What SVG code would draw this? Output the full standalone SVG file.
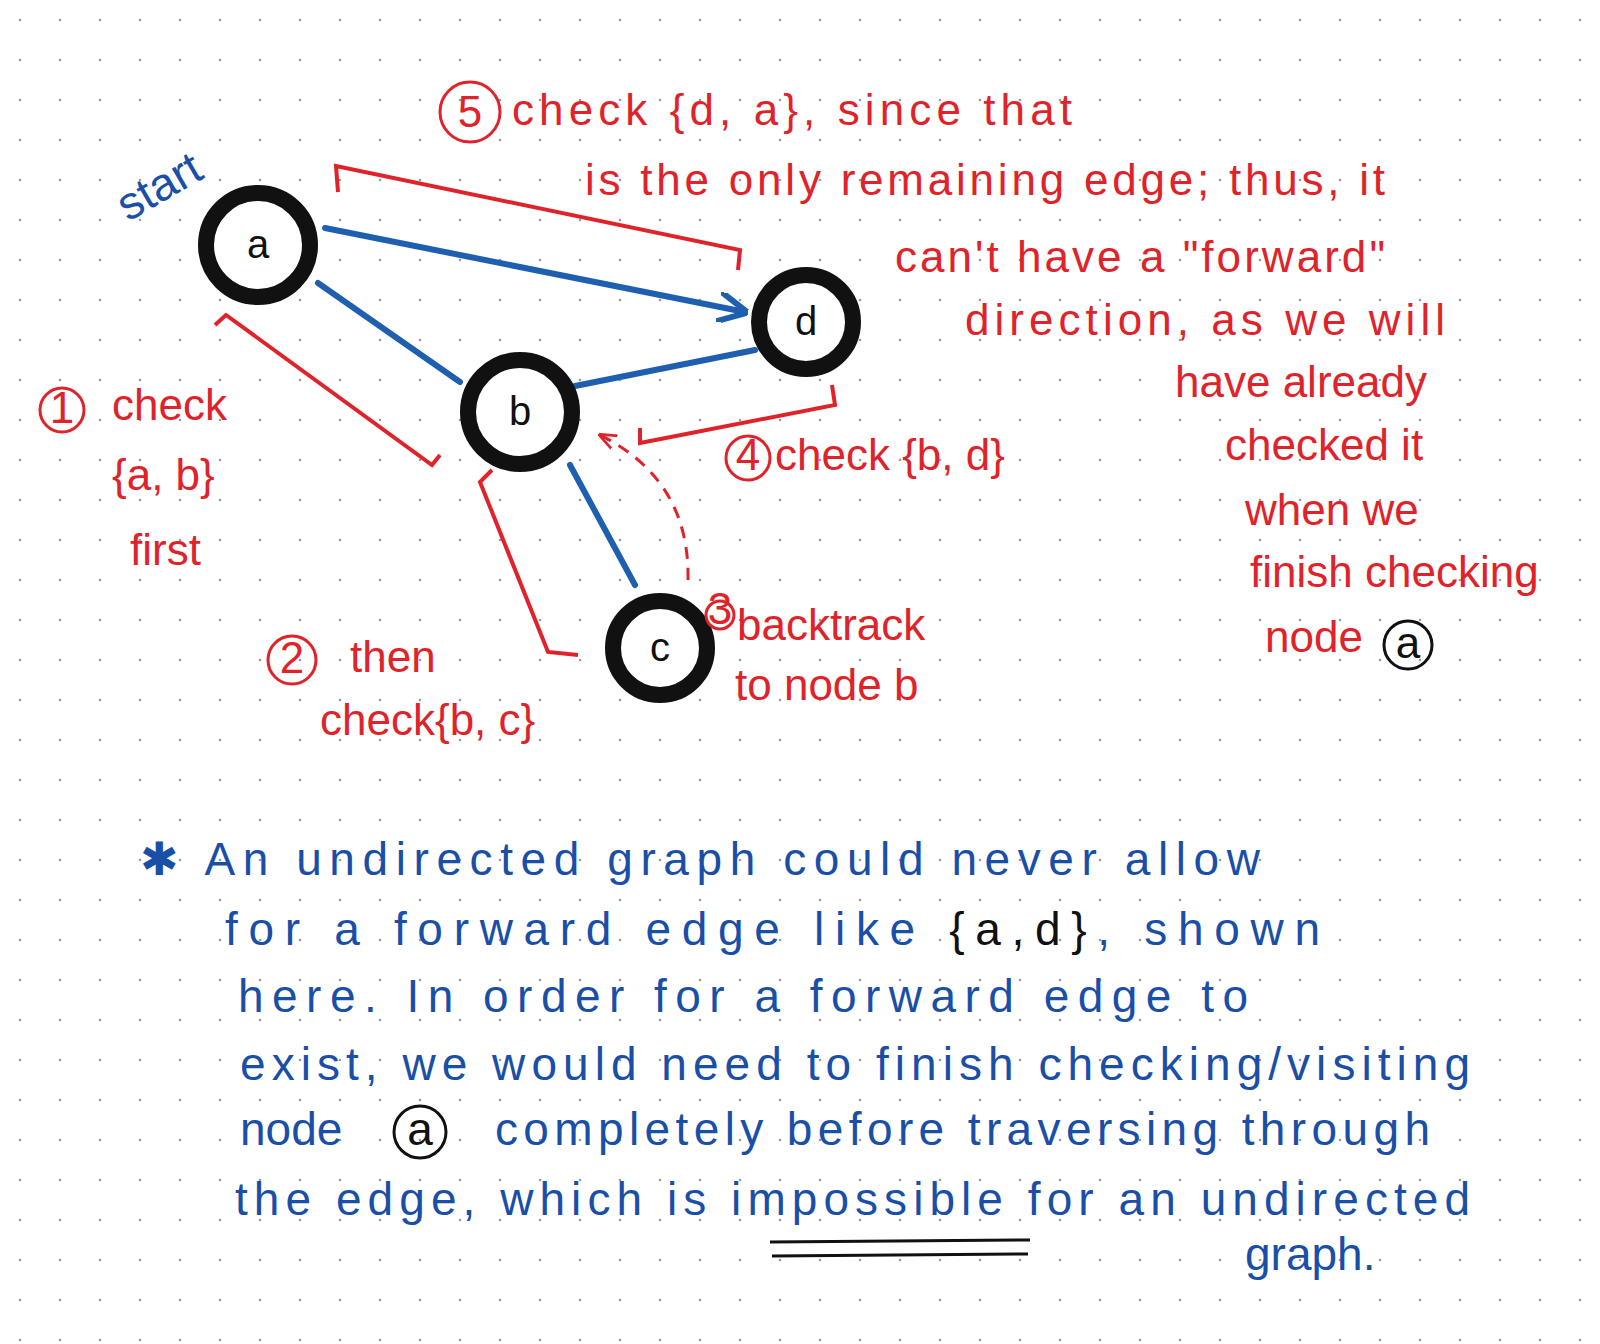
<svg xmlns="http://www.w3.org/2000/svg" width="1600" height="1344" viewBox="0 0 1600 1344">
<defs>
<pattern id="dots" width="40" height="40" patternUnits="userSpaceOnUse"><circle cx="20" cy="20" r="1.3" fill="#9a9a9a"/></pattern>
<marker id="ab" viewBox="0 0 10 10" refX="9" refY="5" markerWidth="5" markerHeight="5" orient="auto"><path d="M0,0 L10,5 L0,10" fill="none" stroke="#1f5fb0" stroke-width="2"/></marker>
<marker id="ar" viewBox="0 0 10 10" refX="9" refY="5" markerWidth="6" markerHeight="6" orient="auto"><path d="M0,1 L10,5 L0,9" fill="none" stroke="#e0232a" stroke-width="1.5"/></marker>
<style>
.node circle{fill:#fff;stroke:#111;stroke-width:16}
.node text{font-family:"Liberation Sans",sans-serif;font-size:40px;fill:#111;text-anchor:middle}
.r{font-family:"Liberation Sans",sans-serif;font-size:44px;fill:#e0232a}
.b{font-family:"Liberation Sans",sans-serif;font-size:46px;fill:#1a4fa8}
.k{fill:#111}
.rc{fill:none;stroke:#e0232a;stroke-width:3}
.edge{stroke:#1f5fb0;stroke-width:6;fill:none;stroke-linecap:round}
.br{stroke:#e0232a;stroke-width:4;fill:none}
</style>
</defs>
<rect width="1600" height="1344" fill="#fff"/>
<rect width="1600" height="1344" fill="url(#dots)"/>
<g id="connectors">
<path class="edge" d="M325,228 L745,312" marker-end="url(#ab)"/>
<path class="edge" d="M318,283 L460,382"/>
<path class="edge" d="M575,386 L755,350"/>
<path class="edge" d="M570,465 L635,585"/>
<path d="M688,580 Q690,480 600,435" fill="none" stroke="#e0232a" stroke-width="3" stroke-dasharray="12,9" marker-end="url(#ar)"/>
</g>
<g id="brackets">
<path class="br" d="M338,192 L336,166 L740,250 L738,270"/>
<path class="br" d="M215,325 L226,315 L432,465 L440,455"/>
<path class="br" d="M640,428 L640,443 L835,405 L832,385"/>
<path class="br" d="M492,470 L480,482 L548,652 L578,655"/>
</g>
<g id="node-a" class="node"><circle cx="258" cy="245" r="52"/><text x="258" y="258">a</text></g>
<g id="node-b" class="node"><circle cx="520" cy="412" r="52"/><text x="520" y="425">b</text></g>
<g id="node-d" class="node"><circle cx="806" cy="322" r="47"/><text x="806" y="335">d</text></g>
<g id="node-c" class="node"><circle cx="660" cy="648" r="47"/><text x="660" y="661">c</text></g>
<g id="labels">
<text class="b" transform="translate(128,222) rotate(-30)" font-size="36">start</text>
<circle class="rc" cx="470" cy="112" r="30"/><text class="r" x="470" y="127" text-anchor="middle">5</text>
<text class="r" x="512" y="125" textLength="560">check {d, a}, since that</text>
<text class="r" x="585" y="195" textLength="800">is the only remaining edge; thus, it</text>
<text class="r" x="895" y="272" textLength="490">can't have a "forward"</text>
<text class="r" x="965" y="335" textLength="480">direction, as we will</text>
<text class="r" x="1175" y="397">have already</text>
<text class="r" x="1225" y="460">checked it</text>
<text class="r" x="1245" y="525">when we</text>
<text class="r" x="1250" y="587">finish checking</text>
<text class="r" x="1265" y="652">node</text>
<circle cx="1408" cy="645" r="24" fill="none" stroke="#111" stroke-width="3"/><text class="r k" x="1408" y="658" text-anchor="middle" font-size="34">a</text>
<circle class="rc" cx="62" cy="410" r="22"/><text class="r" x="62" y="423" text-anchor="middle" font-size="32">1</text>
<text class="r" x="112" y="420">check</text>
<text class="r" x="112" y="490">{a, b}</text>
<text class="r" x="130" y="565">first</text>
<circle class="rc" cx="292" cy="660" r="24"/><text class="r" x="292" y="673" text-anchor="middle" font-size="34">2</text>
<text class="r" x="350" y="672">then</text>
<text class="r" x="320" y="735">check{b, c}</text>
<circle class="rc" cx="720" cy="615" r="14"/><text class="r" x="720" y="624" text-anchor="middle" font-size="24">3</text>
<text class="r" x="737" y="640">backtrack</text>
<text class="r" x="735" y="700">to node b</text>
<circle class="rc" cx="748" cy="458" r="22"/><text class="r" x="748" y="470" text-anchor="middle" font-size="32">4</text>
<text class="r" x="775" y="470">check {b, d}</text>
</g>
<g id="note">
<text class="b" x="140" y="875" textLength="1120">✱ An undirected graph could never allow</text>
<text class="b" x="225" y="945" textLength="1095">for a forward edge like <tspan class="k">{a,d}</tspan>, shown</text>
<text class="b" x="238" y="1012" textLength="1010">here. In order for a forward edge to</text>
<text class="b" x="240" y="1080" textLength="1230">exist, we would need to finish checking/visiting</text>
<text class="b" x="240" y="1145">node</text>
<circle cx="420" cy="1132" r="26" fill="none" stroke="#111" stroke-width="3"/><text class="b k" x="420" y="1145" text-anchor="middle" font-size="36">a</text>
<text class="b" x="495" y="1145" textLength="935">completely before traversing through</text>
<text class="b" x="235" y="1215" textLength="1235">the edge, which is impossible for an undirected</text>
<path d="M770,1242 L1030,1240 M772,1256 L1028,1254" stroke="#111" stroke-width="3"/>
<text class="b" x="1245" y="1270">graph.</text>
</g>
</svg>
